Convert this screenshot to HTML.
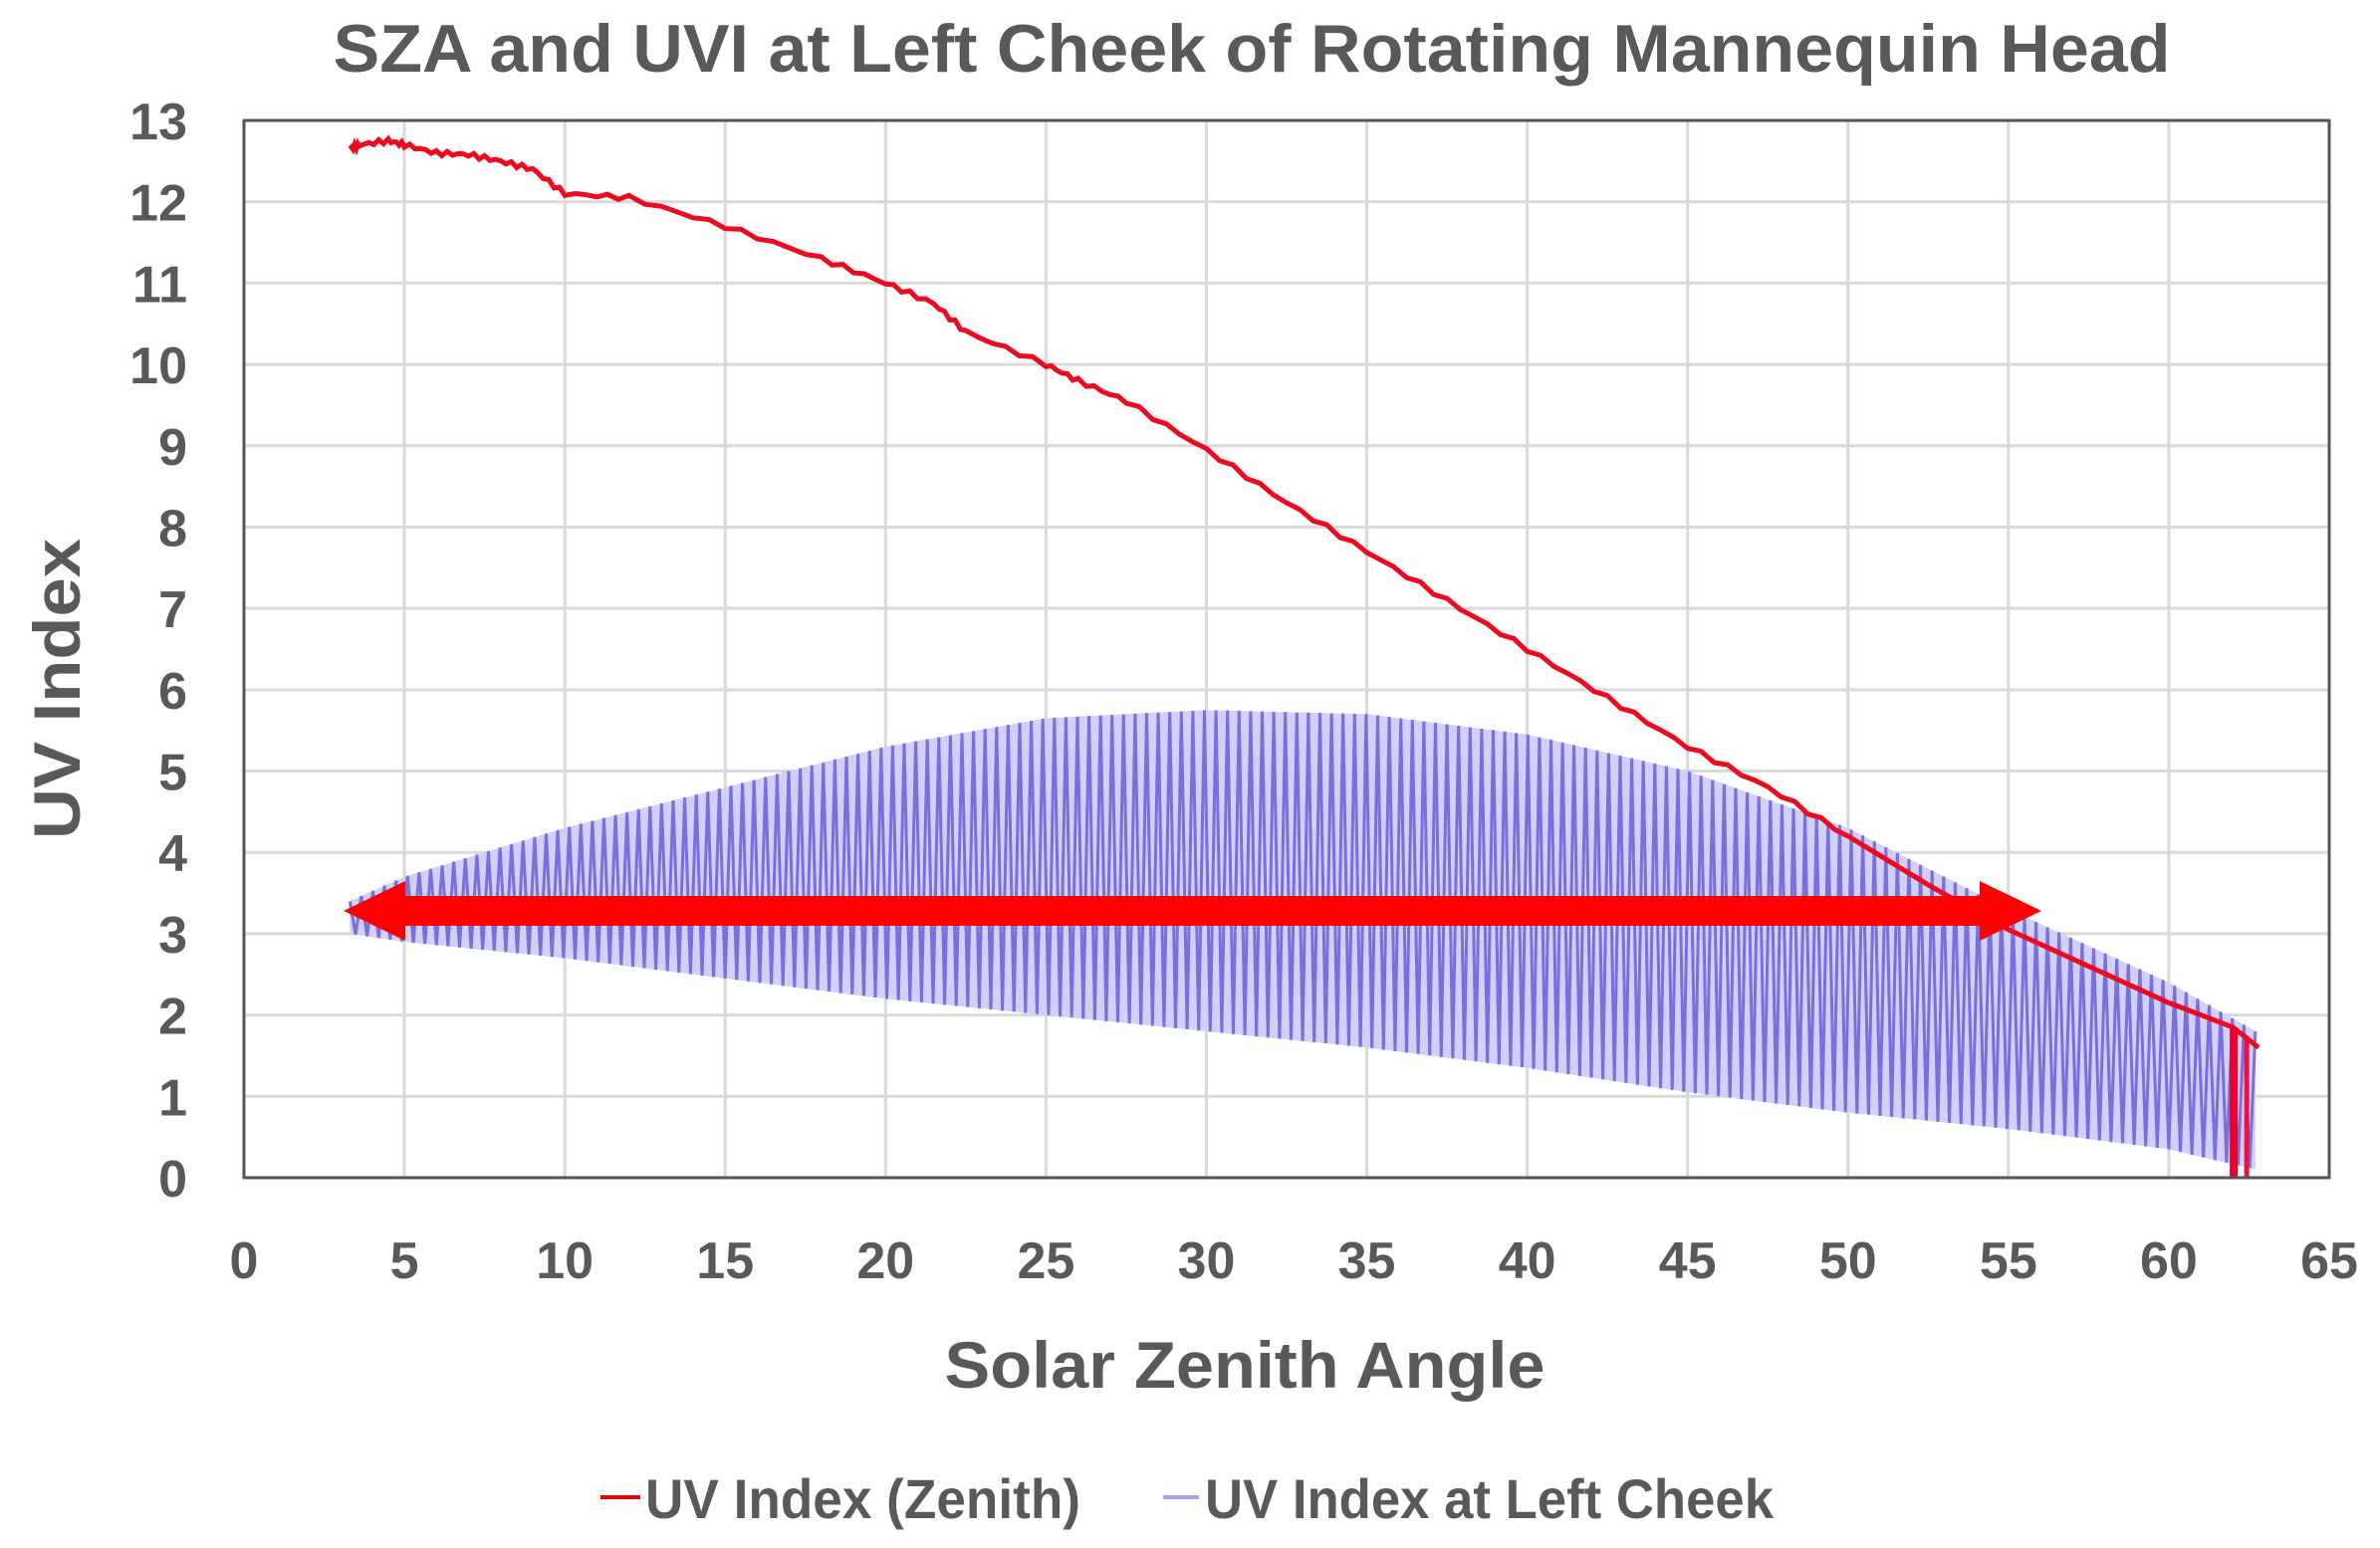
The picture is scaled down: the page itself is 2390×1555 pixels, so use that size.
<!DOCTYPE html>
<html><head><meta charset="utf-8"><style>
html,body{margin:0;padding:0;background:#fff;}
svg{display:block;}
text{font-family:"Liberation Sans",sans-serif;font-weight:bold;fill:#595959;}
</style></head><body>
<svg id="s" width="2390" height="1555" viewBox="0 0 2390 1555" xmlns="http://www.w3.org/2000/svg">
<rect width="2390" height="1555" fill="#fff"/>
<g id="grid"></g>
<g id="blue"></g>
<g id="red"></g>
<g id="axes"></g>
<text x="1257" y="72" font-size="68" text-anchor="middle" textLength="1845" lengthAdjust="spacingAndGlyphs">SZA and UVI at Left Cheek of Rotating Mannequin Head</text>
<text x="1250" y="1394" font-size="66" text-anchor="middle" textLength="603" lengthAdjust="spacingAndGlyphs">Solar Zenith Angle</text>
<text transform="translate(80,692) rotate(-90)" x="0" y="0" font-size="66" text-anchor="middle" textLength="302" lengthAdjust="spacingAndGlyphs">UV Index</text>
<line x1="603" y1="1504" x2="643" y2="1504" stroke="#e00000" stroke-width="4"/>
<text x="648" y="1525" font-size="56" textLength="437" lengthAdjust="spacingAndGlyphs">UV Index (Zenith)</text>
<line x1="1168" y1="1504" x2="1204" y2="1504" stroke="#a8a2e6" stroke-width="4"/>
<text x="1210" y="1525" font-size="56" textLength="571" lengthAdjust="spacingAndGlyphs">UV Index at Left Cheek</text>
</svg>
<script>
var NS="http://www.w3.org/2000/svg";
var X0=245,X1=2339,Y0=1183,Y1=121;
function px(v){return X0+(X1-X0)*v/65;}
function py(v){return Y0-(Y0-Y1)*v/13;}
function el(p,tag,a,txt){var e=document.createElementNS(NS,tag);for(var k in a)e.setAttribute(k,a[k]);if(txt!=null)e.textContent=txt;p.appendChild(e);return e;}
var g=document.getElementById('grid'),ax=document.getElementById('axes'),s=document.getElementById('s');
for(var i=1;i<13;i++)el(g,'line',{x1:X0,x2:X1,y1:py(i),y2:py(i),stroke:'#d9d9d9','stroke-width':3});
for(var i=1;i<13;i++)el(g,'line',{y1:Y0,y2:Y1,x1:px(i*5),x2:px(i*5),stroke:'#d9d9d9','stroke-width':3});
el(ax,'rect',{x:X0,y:Y1,width:X1-X0,height:Y0-Y1,fill:'none',stroke:'#555','stroke-width':3});
for(var i=0;i<=13;i++)el(s,'text',{x:188,y:py(i)+19,'font-size':52,'text-anchor':'end'},String(i));
for(var i=0;i<=13;i++)el(s,'text',{x:px(i*5),y:1284,'font-size':52,'text-anchor':'middle'},String(i*5));
function interp(pts,x){for(var i=0;i<pts.length-1;i++){if(x<=pts[i+1][0]){var t=(x-pts[i][0])/(pts[i+1][0]-pts[i][0]);return pts[i][1]+t*(pts[i+1][1]-pts[i][1]);}}return pts[pts.length-1][1];}
var up=[[3.3,3.4],[5,3.7],[10,4.3],[15,4.8],[20,5.3],[25,5.65],[30,5.75],[35,5.7],[40,5.45],[45,5.0],[50,4.3],[55,3.3],[60,2.4],[62.7,1.8]];
var lo=[[3.3,3.0],[5,2.9],[10,2.7],[15,2.45],[20,2.2],[25,2.0],[30,1.8],[35,1.6],[40,1.35],[45,1.05],[50,0.8],[55,0.6],[60,0.35],[62.7,0.1]];
var b=document.getElementById('blue');
var poly=[];
for(var x=3.3;x<=62.71;x+=0.2)poly.push(px(x).toFixed(1)+','+py(interp(up,x)).toFixed(1));
for(var x=62.7;x>=3.29;x-=0.2)poly.push(px(x).toFixed(1)+','+py(interp(lo,x)).toFixed(1));
el(b,'polygon',{points:poly.join(' '),fill:'#d2cff8'});
var d='',n=330;
for(var i=0;i<=n;i++){var x=3.3+(62.7-3.3)*i/n;var v=(i%2==0)?interp(up,x):interp(lo,x);d+=(i?'L':'M')+px(x).toFixed(1)+','+py(v).toFixed(1);}
el(b,'path',{d:d,fill:'none',stroke:'#6258d4','stroke-width':3,'stroke-opacity':0.8});
var r=document.getElementById('red');
var rp=[[3.3,12.65],[3.6,12.7],[4.5,12.75],[5,12.7],[6,12.6],[7,12.58],[8,12.5],[9,12.4],[10,12.1],[12,12.05],[15,11.7],[18,11.3],[20,11],[21.5,10.75],[22.5,10.4],[25,10.0],[26,9.8],[27.5,9.55],[30,8.95],[32.5,8.3],[35,7.7],[37.5,7.1],[40,6.5],[42.5,5.9],[45,5.3],[47.5,4.8],[50,4.2],[52.5,3.6],[55,3.05],[57.5,2.6],[60,2.15],[62,1.85],[62.8,1.6]];
var rd='',k=0;
for(var i=0;i<rp.length-1;i++){for(var t=0;t<6;t++){var x=rp[i][0]+(rp[i+1][0]-rp[i][0])*t/6;var v=rp[i][1]+(rp[i+1][1]-rp[i][1])*t/6;var j=(x<50)?Math.sin(k*2.7)*0.03:0;rd+=(k?'L':'M')+px(x).toFixed(1)+','+py(v+j).toFixed(1);k++;}}
rd+='L'+px(62.8).toFixed(1)+','+py(1.6).toFixed(1);
el(r,'path',{d:rd,fill:'none',stroke:'#ee0a1e','stroke-width':5});
el(r,'rect',{x:px(61.9),y:py(1.85),width:8,height:py(0)-py(1.85),fill:'#e8002a'});
el(r,'rect',{x:px(62.35),y:py(1.7),width:5,height:py(0)-py(1.7),fill:'#f01040'});
var ay=915,L=345,R=2050;
el(r,'polygon',{points:[L+','+ay,(L+62)+','+(ay-30),(L+62)+','+(ay-15),(R-62)+','+(ay-15),(R-62)+','+(ay-30),R+','+ay,(R-62)+','+(ay+30),(R-62)+','+(ay+15),(L+62)+','+(ay+15),(L+62)+','+(ay+30)].join(' '),fill:'#ff0000'});
</script>
</body></html>
